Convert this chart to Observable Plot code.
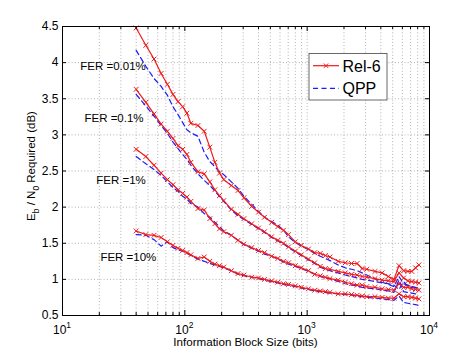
<!DOCTYPE html>
<html><head><meta charset="utf-8">
<script src="https://cdn.jsdelivr.net/npm/d3@7"></script>
<script src="https://cdn.jsdelivr.net/npm/@observablehq/plot@0.6"></script>
<style>
html,body{margin:0;padding:0;background:#fff;}
#chart{width:474px;height:355px;}
</style></head><body><div id="chart"></div>
<script>
// Information block sizes (bits)
const blockSizes = [40,48,56,64,72,80,88,96,104,112,128,144,160,176,192,208,240,272,304,352,400,448,512,576,640,704,800,896,1024,1152,1280,1408,1536,1792,2048,2304,2560,2816,3072,3584,4096,4608,5120,5632,6144,6656,7168,7680,8192];

// Eb/N0 required (dB), Rel-6 interleaver
const rel6_fer001 = [4.48,4.24,4.05,3.85,3.70,3.56,3.46,3.39,3.30,3.16,3.13,3.05,2.83,2.62,2.47,2.38,2.30,2.23,2.13,2.01,1.93,1.86,1.79,1.73,1.68,1.62,1.52,1.47,1.42,1.37,1.36,1.33,1.31,1.25,1.23,1.22,1.22,1.15,1.14,1.11,1.09,1.04,1.00,1.19,1.12,1.11,1.11,1.16,1.20];
const rel6_fer01  = [3.63,3.45,3.29,3.15,3.05,2.95,2.85,2.80,2.73,2.62,2.49,2.46,2.35,2.24,2.16,2.09,1.97,1.90,1.84,1.77,1.71,1.66,1.59,1.54,1.50,1.45,1.39,1.34,1.28,1.23,1.18,1.15,1.14,1.11,1.09,1.07,1.06,1.04,1.03,1.01,0.99,0.98,0.97,1.09,1.02,0.98,0.97,0.96,0.95];
const rel6_fer1   = [2.80,2.70,2.58,2.47,2.38,2.31,2.24,2.19,2.14,2.08,1.98,1.96,1.84,1.77,1.70,1.66,1.61,1.54,1.49,1.44,1.40,1.37,1.32,1.29,1.25,1.23,1.19,1.16,1.12,1.07,1.05,1.03,1.01,0.99,0.96,0.94,0.92,0.92,0.90,0.89,0.87,0.86,0.85,0.94,0.89,0.89,0.87,0.86,0.85];
const rel6_fer10  = [1.67,1.62,1.61,1.58,1.52,1.47,1.43,1.40,1.37,1.34,1.29,1.31,1.25,1.21,1.19,1.17,1.12,1.08,1.06,1.03,1.02,1.00,0.98,0.96,0.94,0.93,0.91,0.89,0.87,0.85,0.84,0.83,0.82,0.80,0.80,0.79,0.78,0.77,0.76,0.76,0.75,0.74,0.74,0.80,0.76,0.76,0.75,0.74,0.73];

// Eb/N0 required (dB), QPP interleaver
const qpp_fer001 = [4.17,3.95,3.78,3.67,3.55,3.39,3.28,3.17,3.07,3.03,2.98,2.76,2.63,2.56,2.49,2.45,2.35,2.26,2.15,2.04,1.94,1.86,1.80,1.75,1.68,1.59,1.51,1.46,1.41,1.36,1.32,1.29,1.26,1.20,1.16,1.14,1.12,1.09,1.06,1.01,0.96,0.93,0.90,1.04,0.94,0.92,0.90,0.89,0.87];
const qpp_fer01  = [3.56,3.40,3.26,3.13,3.02,2.90,2.81,2.73,2.66,2.58,2.46,2.37,2.30,2.22,2.15,2.08,1.96,1.88,1.83,1.76,1.70,1.65,1.58,1.53,1.49,1.44,1.38,1.33,1.27,1.22,1.17,1.14,1.12,1.09,1.06,1.04,1.02,1.00,0.99,0.97,0.95,0.94,0.92,0.86,0.97,0.90,0.89,0.88,0.87];
const qpp_fer1   = [2.70,2.60,2.52,2.44,2.35,2.27,2.22,2.15,2.11,2.05,2.00,1.91,1.86,1.79,1.73,1.67,1.61,1.54,1.48,1.43,1.39,1.35,1.32,1.28,1.24,1.21,1.18,1.15,1.11,1.07,1.04,1.02,1.01,0.97,0.94,0.92,0.91,0.89,0.88,0.87,0.85,0.84,0.82,0.99,0.83,0.82,0.81,0.80,0.80];
const qpp_fer10  = [1.62,1.61,1.55,1.46,1.52,1.44,1.41,1.39,1.36,1.33,1.28,1.25,1.22,1.20,1.18,1.16,1.12,1.07,1.05,1.03,1.01,0.99,0.97,0.95,0.93,0.92,0.90,0.88,0.86,0.84,0.83,0.82,0.81,0.80,0.79,0.78,0.77,0.76,0.75,0.74,0.73,0.72,0.71,0.77,0.68,0.67,0.66,0.65,0.64];

const schemes = ["Rel-6", "QPP"];
const ferNames = ["FER =0.01%", "FER =0.1%", "FER =1%", "FER =10%"];
// label anchor (data coords: block size, dB) for each FER annotation
const ferLabelX = [48, 46, 48, 58.5];
const ferLabelY = [3.95, 3.23, 2.37, 1.31];

const xMajor = [10, 100, 1000, 10000];
const xMinor = [10, 100, 1000].flatMap(d => [2,3,4,5,6,7,8,9].map(k => d * k));
const yTicks = [0.5, 1, 1.5, 2, 2.5, 3, 3.5, 4, 4.5];

const series = [
  {scheme: "Rel-6", fer: ferNames[0], values: rel6_fer001},
  {scheme: "Rel-6", fer: ferNames[1], values: rel6_fer01},
  {scheme: "Rel-6", fer: ferNames[2], values: rel6_fer1},
  {scheme: "Rel-6", fer: ferNames[3], values: rel6_fer10},
  {scheme: "QPP", fer: ferNames[0], values: qpp_fer001},
  {scheme: "QPP", fer: ferNames[1], values: qpp_fer01},
  {scheme: "QPP", fer: ferNames[2], values: qpp_fer1},
  {scheme: "QPP", fer: ferNames[3], values: qpp_fer10}
];
const rows = series.flatMap(s => blockSizes.map((b, i) => ({size: b, ebno: s.values[i], fer: s.fer, scheme: s.scheme})));
const relRows = rows.filter(d => d.scheme === "Rel-6");
const qppRows = rows.filter(d => d.scheme === "QPP");
const labels = ferNames.map((t, i) => ({t, x: ferLabelX[i], y: ferLabelY[i]}));

const FONT = "'Liberation Sans', Arial, Helvetica, sans-serif";
const W = 474, H = 355, ML = 62, MR = 45, MT = 26, MB = 40;
const PW = W - ML - MR, PH = H - MT - MB;

const plot = Plot.plot({
  width: W, height: H,
  marginLeft: ML, marginRight: MR, marginTop: MT, marginBottom: MB,
  style: {fontFamily: FONT, fontSize: "12px", background: "#fff", color: "#000", overflow: "visible"},
  x: {type: "log", domain: [10, 10000], axis: null},
  y: {domain: [0.5, 4.5]},
  marks: [
    Plot.ruleX(xMajor.concat(xMinor), {x: d => d, stroke: "#a8a8a8", strokeWidth: 0.9, strokeDasharray: "1,2.2"}),
    Plot.ruleY(yTicks, {y: d => d, stroke: "#a8a8a8", strokeWidth: 0.9, strokeDasharray: "1,2.2"}),
    Plot.line(qppRows, {x: "size", y: "ebno", z: "fer", stroke: "#1a1aff", strokeWidth: 1.2, strokeDasharray: "5,3.5"}),
    Plot.line(relRows, {x: "size", y: "ebno", z: "fer", stroke: "#f01a1a", strokeWidth: 1.2}),
    Plot.dot(relRows, {x: "size", y: "ebno", symbol: "times", r: 2.3, stroke: "#f01a1a", strokeWidth: 1}),
    Plot.tickX(xMajor, {x: d => d, insetTop: PH - 5, stroke: "#000"}),
    Plot.tickX(xMajor, {x: d => d, insetBottom: PH - 5, stroke: "#000"}),
    Plot.tickX(xMinor, {x: d => d, insetTop: PH - 3, stroke: "#000"}),
    Plot.tickX(xMinor, {x: d => d, insetBottom: PH - 3, stroke: "#000"}),
    Plot.tickY(yTicks, {y: d => d, insetRight: PW - 4, stroke: "#000"}),
    Plot.tickY(yTicks, {y: d => d, insetLeft: PW - 4, stroke: "#000"}),
    Plot.frame({stroke: "#000", strokeWidth: 1}),
    Plot.axisY(yTicks, {tickSize: 0, tickPadding: 4, fontSize: 12, tickFormat: d => String(d), label: null}),
    Plot.text(labels, {x: "x", y: "y", text: "t", textAnchor: "end", fontSize: 11.5, fill: "#000"})
  ]
});
document.getElementById("chart").appendChild(plot);

const svg = d3.select(plot);
const xs = plot.scale("x");
// x tick labels as 10 with superscript exponent
xMajor.forEach(v => {
  const t = svg.append("text")
    .attr("x", xs.apply(v)).attr("y", 333.5)
    .attr("text-anchor", "middle")
    .attr("font-family", FONT).attr("font-size", 12).attr("fill", "#000");
  t.append("tspan").text("10");
  t.append("tspan").attr("dy", -6).attr("font-size", 8.5).text(String(Math.round(Math.log10(v))));
});
// x axis label
svg.append("text").attr("x", ML + PW / 2).attr("y", 346).attr("text-anchor", "middle")
  .attr("font-family", FONT).attr("font-size", 11.6).attr("fill", "#000")
  .text("Information Block Size (bits)");
// y axis label with subscripts
const yl = svg.append("text").attr("transform", "translate(35,166) rotate(-90)")
  .attr("text-anchor", "middle").attr("font-family", FONT).attr("font-size", 11.5).attr("fill", "#000");
yl.append("tspan").text("E");
yl.append("tspan").attr("dy", 3.5).attr("font-size", 8.5).text("b");
yl.append("tspan").attr("dy", -3.5).text(" / N");
yl.append("tspan").attr("dy", 3.5).attr("font-size", 8.5).text("0");
yl.append("tspan").attr("dy", -3.5).text(" Required (dB)");

// legend
const lg = svg.append("g").attr("text-anchor", "start");
lg.append("rect").attr("x", 309).attr("y", 53.5).attr("width", 78).attr("height", 46.5)
  .attr("fill", "#fff").attr("stroke", "#444").attr("stroke-width", 0.8);
lg.append("line").attr("x1", 313).attr("x2", 339).attr("y1", 65.7).attr("y2", 65.7)
  .attr("stroke", "#f01a1a").attr("stroke-width", 1.2);
lg.append("path").attr("d", "M323.8,63.5L328.2,67.9M323.8,67.9L328.2,63.5").attr("stroke", "#f01a1a").attr("stroke-width", 1);
lg.append("text").attr("x", 342.5).attr("y", 71.6).attr("text-anchor", "start").attr("font-family", FONT).attr("font-size", 16).attr("fill", "#000").text(schemes[0]);
lg.append("line").attr("x1", 313).attr("x2", 339).attr("y1", 88.3).attr("y2", 88.3)
  .attr("stroke", "#1a1aff").attr("stroke-width", 1.2).attr("stroke-dasharray", "5,3.5");
lg.append("text").attr("x", 342.5).attr("y", 94).attr("text-anchor", "start").attr("font-family", FONT).attr("font-size", 16).attr("fill", "#000").text(schemes[1]);
</script></body></html>
